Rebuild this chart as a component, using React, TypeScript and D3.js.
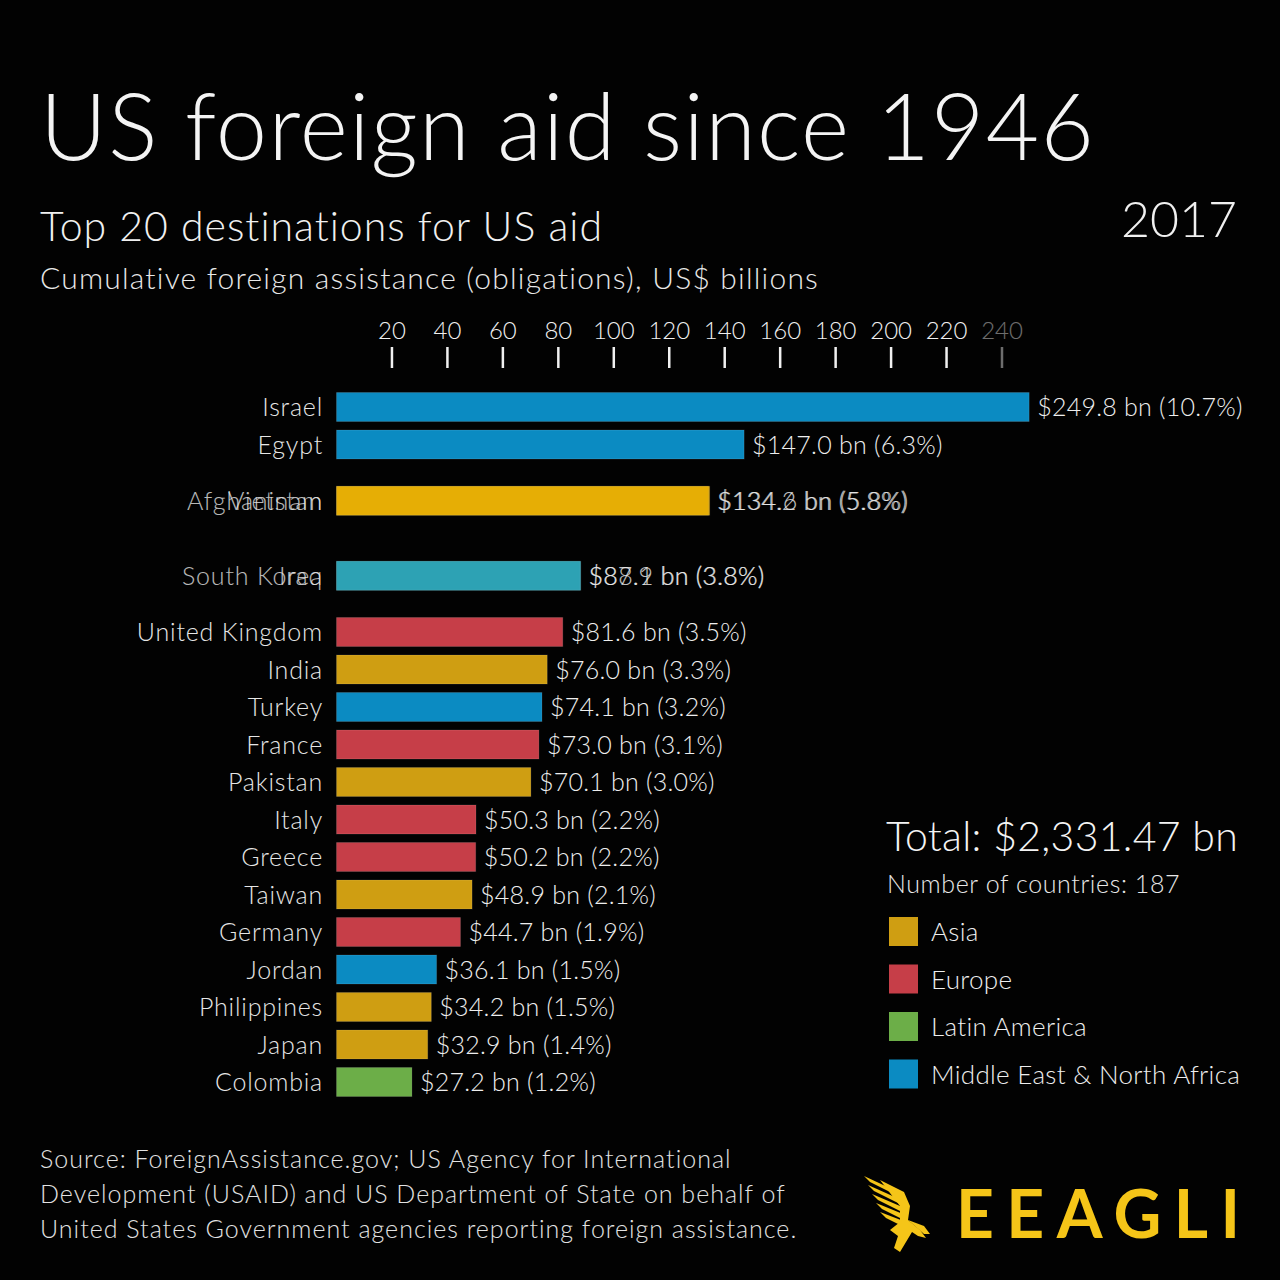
import React from "react";
import { scaleLinear, format } from "d3";

// frame of the 2017 race: countries, cumulative aid (US$ bn), region, and row slot
// (slots are fractional while two rows are swapping places)
const countries = [
  "Israel", "Egypt", "Vietnam", "Afghanistan", "South Korea", "Iraq",
  "United Kingdom", "India", "Turkey", "France", "Pakistan", "Italy",
  "Greece", "Taiwan", "Germany", "Jordan", "Philippines", "Japan", "Colombia",
];
const aidValues = [
  249.8, 147.0, 134.6, 134.2, 88.1, 87.9, 81.6, 76.0, 74.1, 73.0, 70.1, 50.3,
  50.2, 48.9, 44.7, 36.1, 34.2, 32.9, 27.2,
];
const regionOf = [
  "mena", "mena", "asia", "asia", "asia", "mena", "europe", "asia", "mena",
  "europe", "asia", "europe", "europe", "asia", "europe", "mena", "asia",
  "asia", "latam",
];
const slots = [0, 1, 2.5, 2.5, 4.5, 4.5, 6, 7, 8, 9, 10, 11, 12, 13, 14, 15, 16, 17, 18];

const axisTicks = [20, 40, 60, 80, 100, 120, 140, 160, 180, 200, 220, 240];
const totalAid = 2331.47;
const countryCount = 187;
const year = "2017";

const legendKeys = ["asia", "europe", "latam", "mena"];
const legendLabels = ["Asia", "Europe", "Latin America", "Middle East & North Africa"];

const regionColor: Record<string, string> = {
  asia: "#cf9e12",
  europe: "#c63e48",
  latam: "#6cae48",
  mena: "#0b8bc2",
};
// rows caught mid-swap render a blended tone in the animation
const swapColor: Record<string, string> = {
  Vietnam: "#f0b606",
  Afghanistan: "#f0b606",
  "South Korea": "#2fa9bc",
  Iraq: "#2fa9bc",
};

const sourceLines = [
  "Source: ForeignAssistance.gov; US Agency for International",
  "Development (USAID) and US Department of State on behalf of",
  "United States Government agencies reporting foreign assistance.",
];

const FONT = "Lato, 'Open Sans', sans-serif";

function Eagle({ x, y }: { x: number; y: number }) {
  // rough eagle mark: swept feathers, body and head
  const feathers = [0, 1, 2, 3, 4];
  return (
    <g transform={`translate(${x},${y})`} fill="#f5c518">
      {feathers.map((i) => (
        <path
          key={i}
          d={`M${i * 4} ${i * 9} L${30 + i * 3} ${14 + i * 8} L${34 + i * 2} ${20 + i * 8} L${6 + i * 4} ${6 + i * 9} Z`}
        />
      ))}
      <path d="M16 4 L40 16 L46 30 L44 44 L56 54 L62 62 L54 60 L48 56 L42 66 L36 76 L30 72 L34 60 L26 54 L36 46 L36 30 Z" />
      <path d="M44 44 L60 50 L66 58 L60 58 Z" />
    </g>
  );
}

export default function App() {
  const W = 1280;
  const H = 1280;

  const x = scaleLinear().domain([0, 240]).range([336.5, 1002]);
  const y = scaleLinear().domain([0, 18]).range([407, 1082]);
  const barH = 29;
  const fmtPct = format(".1f");

  const label = (v: number) =>
    `$${v.toFixed(1)} bn (${fmtPct((v / totalAid) * 100)}%)`;

  const overlapping = new Set(Object.keys(swapColor));

  return (
    <div style={{ position: "fixed", left: 0, top: 0, background: "#000" }}>
      <svg width={W} height={H} style={{ display: "block", fontFamily: FONT }}>
        <rect width={W} height={H} fill="#020202" />

        <text x={40} y={160} fill="#f4f4f4" fontSize={92} fontWeight={300} letterSpacing={1.3}>
          US foreign aid since 1946
        </text>
        <text x={40} y={241} fill="#f0f0f0" fontSize={41} fontWeight={300} letterSpacing={1}>
          Top 20 destinations for US aid
        </text>
        <text x={1237} y={237} fill="#f0f0f0" fontSize={50} fontWeight={300} textAnchor="end">
          {year}
        </text>
        <text x={40} y={289} fill="#e8e8e8" fontSize={30} fontWeight={300} letterSpacing={1.2}>
          Cumulative foreign assistance (obligations), US$ billions
        </text>

        {/* top axis */}
        {axisTicks.map((t) => (
          <g key={t} transform={`translate(${x(t)},0)`} opacity={t === 240 ? 0.45 : 1}>
            <text y={339} textAnchor="middle" fill="#f0f0f0" fontSize={24} fontWeight={300}>
              {t}
            </text>
            <line y1={347} y2={368} stroke="#f0f0f0" strokeWidth={2.5} />
          </g>
        ))}

        {/* bars */}
        {countries.map((c, i) => {
          const v = aidValues[i];
          const cy = y(slots[i]);
          const fill = swapColor[c] ?? regionColor[regionOf[i]];
          const op = overlapping.has(c) ? 0.8 : 1;
          return (
            <g key={c} opacity={op}>
              <rect
                x={x(0)}
                y={cy - barH / 2}
                width={x(v) - x(0)}
                height={barH}
                fill={fill}
                stroke="#ffffff"
                strokeOpacity={0.12}
              />
              <text
                x={323}
                y={cy + 9}
                textAnchor="end"
                fill="#e6e6e6"
                fontSize={25}
                fontWeight={300}
                letterSpacing={0.8}
              >
                {c}
              </text>
              <text
                x={x(v) + 8}
                y={cy + 9}
                fill="#eeeeee"
                fontSize={25}
                fontWeight={300}
                letterSpacing={0.25}
              >
                {label(v)}
              </text>
            </g>
          );
        })}

        {/* totals and legend */}
        <text x={886} y={851} fill="#f4f4f4" fontSize={41} fontWeight={300} letterSpacing={0.3}>
          {`Total: $${format(",.2f")(totalAid)} bn`}
        </text>
        <text x={887} y={893} fill="#e8e8e8" fontSize={25} fontWeight={300} letterSpacing={0.6}>
          {`Number of countries: ${countryCount}`}
        </text>
        {legendKeys.map((k, i) => (
          <g key={k} transform={`translate(889,${932 + i * 47.5})`}>
            <rect x={0} y={-15} width={29} height={29} fill={regionColor[k]} />
            <text x={42} y={9} fill="#eeeeee" fontSize={26} fontWeight={300} letterSpacing={0.3}>
              {legendLabels[i]}
            </text>
          </g>
        ))}

        {/* source */}
        {sourceLines.map((s, i) => (
          <text
            key={i}
            x={40}
            y={1168 + i * 35}
            fill="#e2e2e2"
            fontSize={25}
            fontWeight={300}
            letterSpacing={1}
          >
            {s}
          </text>
        ))}

        {/* brand */}
        <Eagle x={864} y={1176} />
        <text
          x={956}
          y={1238}
          fill="#f5c518"
          fontSize={66}
          fontWeight={700}
          textLength={284}
          lengthAdjust="spacing"
          fontFamily="Lato, sans-serif"
        >
          EEAGLI
        </text>
      </svg>
    </div>
  );
}
